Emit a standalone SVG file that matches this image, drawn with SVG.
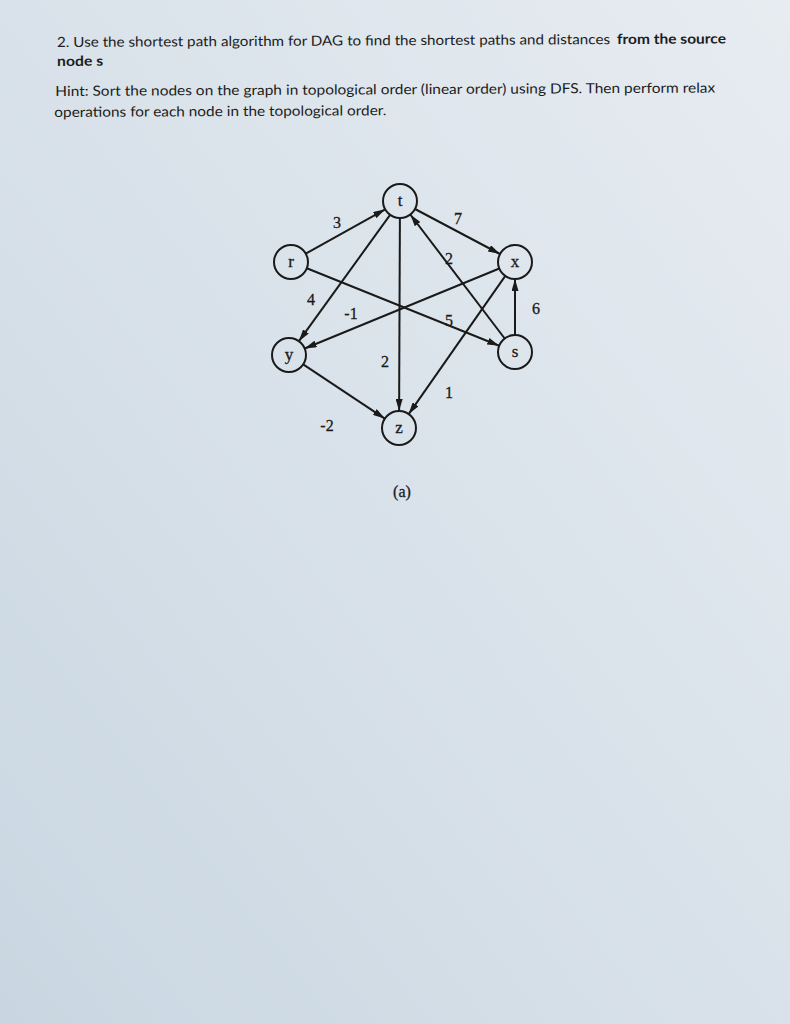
<svg xmlns="http://www.w3.org/2000/svg" width="790" height="1024" viewBox="0 0 790 1024">
<defs>
<linearGradient id="bg" x1="1" y1="0" x2="0" y2="1">
<stop offset="0" stop-color="#e7ecf1"/>
<stop offset="0.5" stop-color="#d9e2ea"/>
<stop offset="1" stop-color="#c9d6e1"/>
</linearGradient>
<marker id="arr" viewBox="0 0 12 7" refX="12" refY="3.5" markerWidth="12" markerHeight="7" markerUnits="userSpaceOnUse" orient="auto">
<path d="M0,0 L12,3.5 L0,7 Z" fill="#1a1a1a"/>
</marker>
</defs>
<style>
.hd{font-family:Lato,"Open Sans","Liberation Sans",sans-serif;font-size:14px;fill:#1c1c1c}
.b{font-weight:bold}
.e{stroke:#1a1a1a;stroke-width:2;fill:none;marker-end:url(#arr)}
.n circle{fill:none;stroke:#1a1a1a;stroke-width:2}
.lb{font-family:"Liberation Serif","DejaVu Serif",serif;font-size:17px;fill:#1a1a1a;stroke:#1a1a1a;stroke-width:0.3;text-anchor:middle}
.wt{font-family:"Liberation Serif","DejaVu Serif",serif;font-size:16px;fill:#1a1a1a;stroke:#1a1a1a;stroke-width:0.3;text-anchor:middle}
</style>
<rect width="790" height="1024" fill="url(#bg)"/>
<g id="text" transform="rotate(-0.3 57 46)">
<text class="hd" x="57" y="47" textLength="553" lengthAdjust="spacingAndGlyphs">2. Use the shortest path algorithm for DAG to find the shortest paths and distances</text>
<text class="hd b" x="617" y="47" textLength="109" lengthAdjust="spacingAndGlyphs">from the source</text>
<text class="hd b" x="57" y="66" textLength="46" lengthAdjust="spacingAndGlyphs">node s</text>
<text class="hd" x="55" y="96" textLength="660" lengthAdjust="spacingAndGlyphs">Hint: Sort the nodes on the graph in topological order (linear order) using DFS. Then perform relax</text>
<text class="hd" x="54" y="117" textLength="332" lengthAdjust="spacingAndGlyphs">operations for each node in the topological order.</text>
</g>
<g id="edges">
<line class="e" x1="305.8" y1="253.7" x2="385.2" y2="209.3"/>
<line class="e" x1="415.0" y1="209.0" x2="500.0" y2="254.0"/>
<line class="e" x1="504.7" y1="338.5" x2="410.3" y2="214.5"/>
<line class="e" x1="390.1" y1="214.8" x2="298.9" y2="341.2"/>
<line class="e" x1="399.9" y1="218" x2="399.1" y2="411"/>
<line class="e" x1="306.8" y1="268.3" x2="499.2" y2="345.7"/>
<line class="e" x1="499.3" y1="268.5" x2="304.7" y2="348.5"/>
<line class="e" x1="505.3" y1="275.9" x2="408.7" y2="414.1"/>
<line class="e" x1="515" y1="335" x2="515" y2="279"/>
<line class="e" x1="303.2" y1="364.4" x2="384.8" y2="418.6"/>
</g>
<g id="weights">
<text class="wt" x="337" y="228">3</text>
<text class="wt" x="458" y="224">7</text>
<text class="wt" x="449" y="264">2</text>
<text class="wt" x="311" y="305">4</text>
<text class="wt" x="351" y="319">-1</text>
<text class="wt" x="449" y="326">5</text>
<text class="wt" x="536" y="314">6</text>
<text class="wt" x="385" y="367">2</text>
<text class="wt" x="449" y="398">1</text>
<text class="wt" x="327" y="431">-2</text>
</g>
<g id="node-t" class="n"><circle cx="400" cy="201" r="17"/><text class="lb" x="400" y="206">t</text></g>
<g id="node-r" class="n"><circle cx="291" cy="262" r="17"/><text class="lb" x="291" y="267">r</text></g>
<g id="node-x" class="n"><circle cx="515" cy="262" r="17"/><text class="lb" x="515" y="267">x</text></g>
<g id="node-y" class="n"><circle cx="289" cy="355" r="17"/><text class="lb" x="289" y="360">y</text></g>
<g id="node-s" class="n"><circle cx="515" cy="352" r="17"/><text class="lb" x="515" y="357">s</text></g>
<g id="node-z" class="n"><circle cx="399" cy="428" r="17"/><text class="lb" x="399" y="433">z</text></g>
<text id="caption" class="wt" x="402" y="497">(a)</text>
</svg>
